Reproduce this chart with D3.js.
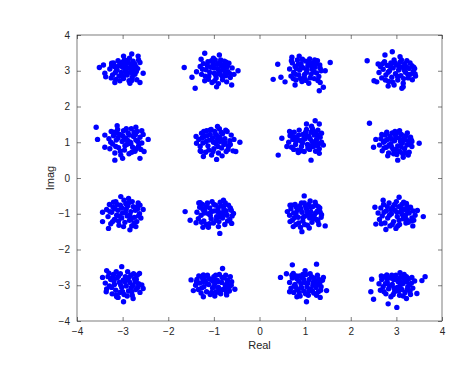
<!DOCTYPE html>
<html>
<head>
<meta charset="utf-8">
<script src="https://cdn.jsdelivr.net/npm/d3@7"></script>
<style>
  body { margin: 0; background: #fff; }
  text { font-family: 'Liberation Sans', Arial, sans-serif; fill: #262626; }
</style>
</head>
<body>
<svg id="chart" width="474" height="366"></svg>
<script>
// ideal 16-QAM symbols (real, imag)
const symbols = [
  [-3, 3], [-1, 3], [1, 3], [3, 3],
  [-3, 1], [-1, 1], [1, 1], [3, 1],
  [-3, -1], [-1, -1], [1, -1], [3, -1],
  [-3, -3], [-1, -3], [1, -3], [3, -3],
];

// received noise around each symbol
const noiseM3P3 = [[-0.51,0.09],[-0.42,0.16],[-0.39,-0.07],[-0.37,-0.17],[-0.24,0.21],[0.02,0.41],[0.2,0.47],[0.34,0.41],[0.38,0.23],[0.45,-0.07],[-0.17,-0.33],[0.16,-0.35],[0.38,-0.33],
  [-0.28,0.05],[-0.22,-0.12],[-0.18,0.12],[-0.15,-0.24],[-0.12,0.02],[-0.1,0.28],[-0.08,-0.15],[-0.05,0.18],[-0.03,-0.05],[0,0.1],[0.02,-0.22],[0.04,0.31],[0.06,-0.02],[0.08,0.2],[0.1,-0.12],[0.12,0.08],[0.14,-0.28],[0.15,0.35],[0.17,-0.04],[0.19,0.16],[0.21,-0.18],[0.23,0.27],[0.25,0.02],[0.27,-0.1],[0.29,0.12],[0.31,-0.25],[0.33,0.06],[0.35,0.3],[-0.25,-0.2],[-0.2,0.22],[-0.14,0.08],[-0.06,-0.28],[-0.01,0.24],[0.05,0.14],[0.09,-0.06],[0.13,0.22],[0.18,0.04],[0.22,-0.08],[0.26,0.2],[0.3,-0.02],[-0.16,-0.05],[-0.09,0.14],[0,-0.14],[0.07,0.04],[0.11,0.28],[0.2,-0.27],[0.24,0.1],[-0.24,0.14]];
const noiseM1P3 = [[-0.65,0.09],[-0.41,-0.49],[-0.2,0.49],[-0.28,0.32],[-0.01,0.35],[0.12,0.44],[0.53,0],[0.39,-0.4],[0.28,-0.31],[0.06,-0.45],[-0.48,-0.18],[-0.38,-0.03],
  [-0.3,0.12],[-0.27,-0.1],[-0.23,0.2],[-0.2,-0.28],[-0.17,0.03],[-0.13,0.25],[-0.11,-0.16],[-0.07,0.1],[-0.04,-0.33],[-0.02,0.19],[0.01,-0.07],[0.03,0.3],[0.05,-0.2],[0.08,0.06],[0.1,-0.36],[0.12,0.22],[0.14,-0.1],[0.16,0.13],[0.19,-0.25],[0.21,0.02],[0.23,0.27],[0.26,-0.14],[0.28,0.1],[0.31,-0.03],[0.33,0.21],[0.36,-0.19],[0.4,0.08],[0.44,-0.1],[-0.25,0.04],[-0.19,-0.15],[-0.14,0.14],[-0.09,-0.05],[-0.05,0.28],[0,0.08],[0.04,-0.12],[0.07,0.18],[0.11,-0.02],[0.15,0.3],[0.18,-0.15],[0.22,0.17],[0.25,-0.05],[0.3,0.14],[0.35,-0.08],[-0.12,-0.24],[0.02,-0.28],[0.13,0],[0.2,0.09],[0.27,0.24]];
const noiseP1P3 = [[-0.6,0.18],[-0.7,-0.24],[-0.53,-0.18],[-0.44,-0.31],[-0.29,0.38],[-0.13,0.41],[0.55,0.23],[0.44,0],[0.33,-0.33],[0.4,-0.46],[0.31,-0.56],[-0.22,-0.4],
  [-0.34,0.05],[-0.31,-0.15],[-0.28,0.22],[-0.25,-0.05],[-0.22,0.12],[-0.2,-0.26],[-0.17,0.3],[-0.14,-0.12],[-0.12,0.02],[-0.09,0.2],[-0.07,-0.3],[-0.04,0.08],[-0.02,-0.18],[0.01,0.27],[0.03,-0.04],[0.06,0.14],[0.08,-0.35],[0.1,0.33],[0.13,-0.1],[0.15,0.04],[0.17,0.22],[0.2,-0.22],[0.22,0.1],[0.25,-0.06],[0.27,0.28],[0.3,-0.16],[0.32,0.16],[0.35,0],[-0.3,0.28],[-0.26,-0.22],[-0.19,0.06],[-0.15,0.18],[-0.1,-0.22],[-0.06,0.32],[-0.01,-0.1],[0.04,0.02],[0.07,0.24],[0.11,-0.2],[0.16,0.12],[0.19,-0.03],[0.24,0.2],[0.28,-0.27],[0.33,0.07],[-0.21,-0.1],[-0.08,0.11],[0.02,-0.27],[0.12,0.18],[0.21,0.3]];
const noiseP3P3 = [[-0.64,0.28],[-0.25,0.44],[-0.09,0.53],[-0.4,0.19],[-0.49,-0.28],[-0.43,-0.31],[0.08,0.39],[0.41,-0.09],[0.22,0.11],[-0.18,-0.43],[0.15,-0.45],[0.12,-0.49],
  [-0.38,-0.05],[-0.35,0.12],[-0.32,-0.2],[-0.29,0.04],[-0.26,0.25],[-0.23,-0.12],[-0.2,0.15],[-0.17,-0.3],[-0.15,0],[-0.12,0.22],[-0.1,-0.18],[-0.07,0.08],[-0.05,0.3],[-0.02,-0.08],[0,0.16],[0.03,-0.26],[0.05,0.02],[0.08,0.24],[0.1,-0.14],[0.13,0.1],[0.15,-0.35],[0.18,0.2],[0.2,-0.04],[0.23,0.28],[0.26,-0.2],[0.28,0.06],[0.31,-0.1],[0.34,0.14],[0.37,-0.02],[0.4,0.06],[0.42,-0.15],[-0.3,0.2],[-0.24,-0.26],[-0.18,-0.04],[-0.13,0.12],[-0.08,-0.32],[-0.03,0.22],[0.02,-0.15],[0.06,0.12],[0.11,0.3],[0.16,-0.22],[0.21,0.1],[0.25,-0.1],[0.3,0.22],[0.35,-0.25],[-0.05,-0.4],[0.17,0.02],[0.38,0.1]];
const noiseM3P1 = [[-0.58,0.42],[-0.55,0.08],[-0.39,0.2],[-0.39,-0.14],[-0.12,0.46],[0.29,0.42],[0.42,0.32],[0.56,0.08],[0.47,-0.26],[0.38,-0.45],[-0.17,-0.5],[0,-0.45],
  [-0.3,0.1],[-0.28,-0.18],[-0.25,0.3],[-0.22,-0.05],[-0.2,0.18],[-0.17,-0.3],[-0.14,0.06],[-0.11,0.36],[-0.09,-0.15],[-0.06,0.22],[-0.04,-0.36],[-0.01,0.02],[0.02,0.32],[0.04,-0.22],[0.07,0.12],[0.09,-0.06],[0.12,0.26],[0.14,-0.32],[0.17,0],[0.19,0.38],[0.22,-0.14],[0.24,0.16],[0.27,-0.25],[0.29,0.06],[0.32,0.3],[0.35,-0.1],[0.38,0.14],[0.42,-0.02],[0.45,0.22],[-0.26,0],[-0.19,0.28],[-0.15,-0.12],[-0.1,0.12],[-0.05,-0.25],[0,0.18],[0.05,-0.1],[0.08,0.38],[0.11,0.05],[0.15,0.2],[0.2,-0.28],[0.25,0.28],[0.3,-0.18],[0.33,0.02],[0.4,-0.2],[-0.12,0.25],[0.03,0.08],[0.18,-0.04],[0.28,0.22]];
const noiseM1P1 = [[-0.39,0.16],[-0.38,-0.03],[-0.3,-0.24],[-0.23,-0.4],[0.08,0.44],[-0.09,0.34],[0.44,0.08],[0.57,0],[0.42,-0.24],[0.48,-0.26],[0.06,-0.48],
  [-0.33,0.08],[-0.3,-0.12],[-0.27,0.25],[-0.24,-0.02],[-0.21,0.16],[-0.18,-0.28],[-0.16,0.32],[-0.13,-0.1],[-0.1,0.06],[-0.08,0.22],[-0.05,-0.36],[-0.03,0.12],[0,-0.18],[0.02,0.3],[0.05,-0.04],[0.07,0.18],[0.1,-0.3],[0.12,0.38],[0.14,0.02],[0.17,-0.16],[0.19,0.24],[0.22,-0.06],[0.24,0.1],[0.27,-0.26],[0.29,0.3],[0.32,-0.12],[0.35,0.04],[0.38,0.2],[-0.28,-0.26],[-0.22,0.3],[-0.17,0.02],[-0.11,-0.22],[-0.06,0.36],[-0.01,0],[0.04,0.22],[0.09,-0.12],[0.13,0.14],[0.18,-0.38],[0.21,0.06],[0.26,0.34],[0.31,-0.2],[0.36,-0.06],[-0.15,0.18],[-0.02,-0.26],[0.08,0.08],[0.16,0.28],[0.25,-0.02],[-0.26,0.12]];
const noiseP1P1 = [[-0.59,-0.36],[-0.51,0.11],[-0.34,0.3],[0.03,0.51],[0.22,0.6],[0.31,0.51],[0.14,0.45],[0.36,0.25],[0.4,-0.08],[0.31,-0.31],[0.13,-0.5],[-0.15,-0.29],[-0.4,-0.12],
  [-0.36,0],[-0.33,0.18],[-0.3,-0.14],[-0.27,0.08],[-0.24,0.28],[-0.21,-0.06],[-0.19,0.14],[-0.16,-0.22],[-0.13,0.34],[-0.1,0.04],[-0.08,-0.12],[-0.05,0.22],[-0.02,-0.26],[0,0.1],[0.03,0.36],[0.05,-0.06],[0.08,0.16],[0.1,-0.2],[0.13,0.28],[0.15,0.02],[0.18,-0.12],[0.2,0.2],[0.23,-0.25],[0.25,0.08],[0.28,0.34],[0.3,-0.04],[0.33,0.14],[0.36,0],[-0.3,0.26],[-0.25,-0.2],[-0.2,0.02],[-0.14,0.2],[-0.09,-0.24],[-0.04,0.08],[0.01,0.28],[0.06,-0.16],[0.11,0.1],[0.16,0.38],[0.21,-0.02],[0.26,0.22],[0.31,-0.18],[-0.17,0.08],[-0.06,-0.02],[0.04,0.18],[0.12,-0.1],[0.19,0.3],[0.27,-0.1],[-0.26,0.14]];
const noiseP3P1 = [[-0.59,0.53],[-0.5,-0.14],[-0.45,0.08],[-0.19,-0.38],[0.03,-0.5],[0.15,-0.42],[0.26,-0.36],[0.5,-0.03],[0.34,0.02],[0.07,0.32],[-0.21,0.25],
  [-0.37,-0.08],[-0.34,0.1],[-0.31,-0.24],[-0.28,0],[-0.25,0.2],[-0.22,-0.14],[-0.2,0.08],[-0.17,-0.3],[-0.14,0.16],[-0.12,-0.04],[-0.09,0.26],[-0.07,-0.2],[-0.04,0.04],[-0.02,0.2],[0.01,-0.34],[0.03,-0.1],[0.06,0.12],[0.08,-0.26],[0.11,0.22],[0.13,-0.02],[0.16,0.1],[0.18,-0.18],[0.21,0.18],[0.23,-0.08],[0.26,0.04],[0.28,-0.28],[0.31,0.14],[0.34,-0.12],[-0.32,0.22],[-0.27,-0.16],[-0.21,0.28],[-0.16,-0.08],[-0.11,0.1],[-0.06,-0.32],[-0.01,0.14],[0.04,0.28],[0.09,0.02],[0.14,-0.32],[0.19,0.06],[0.24,0.26],[0.29,-0.06],[0.33,0.06],[-0.24,0.04],[-0.1,-0.14],[0,-0.2],[0.1,-0.12],[0.2,-0.3],[-0.03,0.3]];
const noiseM3M1 = [[-0.44,0.04],[-0.44,-0.22],[-0.31,-0.41],[-0.04,0.48],[0.13,0.43],[0.38,0.24],[0.45,0.12],[0.29,-0.36],[0.16,-0.45],[-0.17,-0.17],
  [-0.35,0.12],[-0.32,-0.08],[-0.29,0.26],[-0.26,-0.28],[-0.24,0.04],[-0.21,0.18],[-0.18,-0.16],[-0.15,0.34],[-0.13,-0.04],[-0.1,0.1],[-0.08,-0.32],[-0.05,0.24],[-0.02,-0.12],[0,0.02],[0.03,0.38],[0.05,-0.24],[0.08,0.14],[0.1,-0.06],[0.13,0.3],[0.15,-0.18],[0.18,0.06],[0.2,-0.34],[0.23,0.2],[0.26,-0.1],[0.28,0.1],[0.31,-0.22],[0.34,0.3],[0.37,0],[0.4,-0.12],[-0.28,0.06],[-0.22,-0.22],[-0.17,0.14],[-0.12,0.26],[-0.07,-0.06],[-0.02,0.16],[0.02,-0.36],[0.06,0.04],[0.11,0.22],[0.16,-0.04],[0.21,0.34],[0.25,-0.26],[0.3,0.18],[0.35,-0.06],[-0.2,0.32],[-0.09,-0.2],[0.07,0.28],[0.19,-0.14],[0.33,0.14]];
const noiseM1M1 = [[-0.63,0.06],[-0.52,-0.18],[-0.39,-0.25],[-0.3,0.31],[-0.24,-0.38],[0.13,-0.55],[0.21,0.38],[0.43,0.01],[0.39,-0.27],[0.1,-0.36],[-0.12,-0.38],
  [-0.37,0.04],[-0.34,-0.14],[-0.31,0.18],[-0.28,-0.04],[-0.25,0.26],[-0.22,-0.2],[-0.2,0.1],[-0.17,-0.3],[-0.14,0.3],[-0.12,0],[-0.09,0.16],[-0.06,-0.14],[-0.04,0.34],[-0.01,-0.26],[0.01,0.08],[0.04,0.24],[0.06,-0.08],[0.09,0.14],[0.11,-0.22],[0.14,0.32],[0.16,0.02],[0.19,-0.12],[0.21,0.2],[0.24,-0.3],[0.27,0.08],[0.29,-0.04],[0.32,0.24],[0.35,-0.16],[0.38,0.1],[0.4,-0.06],[-0.33,0.3],[-0.27,-0.24],[-0.21,0.02],[-0.16,0.2],[-0.1,-0.28],[-0.05,0.06],[0,0.26],[0.05,-0.18],[0.1,0.04],[0.15,0.22],[0.2,-0.02],[0.25,0.3],[0.3,-0.2],[0.36,0.16],[-0.24,0.12],[-0.08,-0.04],[0.12,-0.08],[0.22,0.12]];
const noiseP1M1 = [[-0.02,0.5],[-0.33,0.24],[-0.39,0.06],[-0.33,-0.22],[-0.26,-0.36],[-0.07,-0.5],[0.44,-0.34],[0.36,-0.03],[0.29,0.2],[0.11,0.36],
  [-0.34,-0.04],[-0.31,0.14],[-0.28,-0.18],[-0.25,0.02],[-0.22,0.26],[-0.2,-0.3],[-0.17,0.1],[-0.15,-0.1],[-0.12,0.22],[-0.1,-0.38],[-0.07,0.04],[-0.05,-0.2],[-0.02,0.3],[0,-0.06],[0.03,0.14],[0.05,-0.32],[0.08,0.26],[0.1,-0.12],[0.12,0.06],[0.15,-0.24],[0.17,0.2],[0.2,-0.04],[0.22,0.32],[0.25,-0.16],[0.27,0.08],[0.3,-0.3],[0.32,0.16],[0.35,-0.1],[-0.29,0.24],[-0.24,-0.12],[-0.19,0.18],[-0.14,-0.26],[-0.09,0.14],[-0.04,-0.1],[0.01,0.22],[0.06,-0.02],[0.09,-0.4],[0.13,0.18],[0.18,-0.14],[0.23,0.02],[0.28,-0.2],[0.33,0.04],[-0.2,0],[-0.08,0.3],[0.04,0.06],[0.14,-0.06],[0.24,0.24],[-0.01,-0.3]];
const noiseP3M1 = [[-0.47,0.18],[-0.45,-0.29],[-0.29,0.38],[0.06,0.46],[0.22,0.29],[0.46,0.09],[0.59,-0.08],[0.36,-0.34],[-0.01,-0.41],[-0.23,-0.44],[0.22,-0.16],
  [-0.4,0.02],[-0.37,-0.16],[-0.34,0.16],[-0.31,-0.06],[-0.28,0.26],[-0.25,-0.26],[-0.22,0.08],[-0.19,-0.12],[-0.16,0.3],[-0.14,-0.34],[-0.11,0],[-0.08,0.18],[-0.06,-0.22],[-0.03,0.1],[0,0.34],[0.02,-0.08],[0.05,0.2],[0.07,-0.3],[0.1,0.04],[0.12,0.26],[0.15,-0.14],[0.18,0.12],[0.2,-0.04],[0.23,0.22],[0.26,-0.24],[0.28,0.02],[0.31,0.18],[0.34,-0.12],[0.37,0.08],[0.41,-0.04],[-0.33,-0.28],[-0.27,0.04],[-0.2,0.2],[-0.15,-0.04],[-0.09,-0.3],[-0.04,0.26],[0.01,0.04],[0.06,-0.18],[0.11,0.14],[0.16,0.32],[0.21,-0.26],[0.27,0.14],[0.32,-0.2],[-0.12,0.12],[0.03,-0.34],[0.13,-0.02],[0.24,0.08],[0.38,-0.18]];
const noiseM3M3 = [[-0.35,0.41],[-0.02,0.52],[-0.14,0.38],[0.37,0.33],[-0.44,0.22],[0.45,-0.09],[0.42,0.01],[-0.36,-0.18],[0.23,-0.37],[0.02,-0.46],[-0.13,-0.32],
  [-0.38,0.06],[-0.35,-0.1],[-0.32,0.24],[-0.29,-0.02],[-0.26,0.16],[-0.23,-0.24],[-0.2,0.3],[-0.18,0.02],[-0.15,-0.14],[-0.12,0.2],[-0.1,-0.34],[-0.07,0.08],[-0.05,0.32],[-0.02,-0.06],[0.01,0.14],[0.03,-0.26],[0.06,0.24],[0.08,-0.02],[0.11,0.38],[0.13,-0.16],[0.16,0.08],[0.18,0.28],[0.21,-0.28],[0.23,0],[0.26,0.18],[0.29,-0.12],[0.32,0.28],[0.35,0.04],[0.38,-0.2],[-0.3,0.34],[-0.24,-0.06],[-0.19,0.12],[-0.14,-0.28],[-0.09,0.26],[-0.04,0],[0,-0.18],[0.05,0.1],[0.1,-0.3],[0.14,0.22],[0.19,-0.06],[0.24,0.32],[0.28,0.1],[0.33,-0.06],[-0.22,0.22],[-0.06,-0.2],[0.09,0.16],[0.2,-0.18],[0.3,0.16]];
const noiseM1M3 = [[-0.5,0.15],[-0.38,0.1],[-0.45,-0.15],[-0.23,0.29],[0.19,0.47],[0.39,0.1],[0.46,-0.11],[0.28,-0.27],[0.02,-0.3],[-0.23,-0.32],
  [-0.4,0],[-0.37,0.16],[-0.34,-0.12],[-0.31,0.06],[-0.28,-0.22],[-0.25,0.2],[-0.22,-0.04],[-0.19,0.12],[-0.16,-0.18],[-0.14,0.28],[-0.11,0.02],[-0.08,-0.26],[-0.06,0.16],[-0.03,-0.08],[0,0.24],[0.02,0.04],[0.05,-0.18],[0.07,0.14],[0.1,-0.06],[0.12,0.3],[0.15,-0.24],[0.17,0.08],[0.2,-0.12],[0.22,0.2],[0.25,0],[0.28,-0.2],[0.3,0.14],[0.33,-0.06],[0.36,0.24],[-0.33,0.26],[-0.27,-0.08],[-0.2,0.24],[-0.15,0.04],[-0.1,0.18],[-0.05,-0.2],[0,-0.04],[0.04,0.28],[0.09,0.1],[0.14,-0.14],[0.18,0.22],[0.24,-0.1],[0.29,0.06],[0.34,-0.16],[-0.24,0.1],[-0.02,0.12],[0.11,-0.2],[0.26,0.28],[0.38,0]];
const noiseP1M3 = [[-0.28,0.57],[0.25,0.59],[-0.54,0.22],[-0.41,0.32],[-0.26,0.33],[0,0.41],[0.4,0.22],[0.47,-0.15],[0.33,-0.34],[0.03,-0.46],[-0.18,-0.32],[-0.34,-0.18],
  [-0.34,0.08],[-0.31,-0.08],[-0.28,0.2],[-0.25,-0.2],[-0.22,0.02],[-0.19,0.26],[-0.17,-0.12],[-0.14,0.12],[-0.11,-0.3],[-0.09,0.04],[-0.06,0.22],[-0.03,-0.16],[-0.01,0.08],[0.02,0.3],[0.04,-0.04],[0.07,-0.28],[0.09,0.16],[0.12,-0.1],[0.14,0.24],[0.17,0],[0.19,-0.22],[0.22,0.12],[0.24,-0.06],[0.27,0.28],[0.29,-0.18],[0.32,0.06],[0.35,-0.04],[0.38,0.14],[-0.29,0.28],[-0.24,-0.02],[-0.18,0.18],[-0.13,-0.2],[-0.08,-0.06],[-0.03,0.16],[0.01,-0.24],[0.06,0.06],[0.11,0.32],[0.16,-0.16],[0.2,0.2],[0.25,-0.28],[0.3,0.16],[0.34,-0.14],[-0.2,-0.06],[-0.05,0.3],[0.08,-0.16],[0.18,0.08],[0.27,0.02],[-0.12,0.26]];
const noiseP3M3 = [[-0.54,0.17],[-0.56,-0.18],[-0.5,-0.39],[-0.21,0.29],[0.08,0.35],[0.22,0.24],[0.63,0.24],[0.56,0.13],[0.45,-0.23],[0.22,-0.37],[0.01,-0.62],[-0.18,-0.52],
  [-0.38,0.04],[-0.35,-0.14],[-0.32,0.16],[-0.29,-0.04],[-0.26,0.24],[-0.23,-0.24],[-0.2,0.08],[-0.17,-0.1],[-0.14,0.2],[-0.12,-0.32],[-0.09,0.02],[-0.06,0.16],[-0.04,-0.18],[-0.01,0.28],[0.02,-0.06],[0.04,0.1],[0.07,-0.28],[0.09,0.22],[0.12,-0.12],[0.14,0.04],[0.17,0.3],[0.19,-0.2],[0.22,0.1],[0.25,-0.04],[0.27,0.18],[0.3,-0.16],[0.33,0.06],[0.36,-0.08],[0.4,0.12],[-0.33,0.26],[-0.27,-0.18],[-0.21,0.18],[-0.15,-0.02],[-0.1,0.28],[-0.05,-0.08],[0,0.16],[0.05,-0.16],[0.1,0.08],[0.15,-0.3],[0.2,0.24],[0.24,-0.12],[0.29,0.02],[0.34,0.22],[-0.24,0.04],[-0.07,-0.26],[0.08,-0.02],[0.18,0.16],[0.31,-0.26]];

const noiseSets = [
  noiseM3P3, noiseM1P3, noiseP1P3, noiseP3P3,
  noiseM3P1, noiseM1P1, noiseP1P1, noiseP3P1,
  noiseM3M1, noiseM1M1, noiseP1M1, noiseP3M1,
  noiseM3M3, noiseM1M3, noiseP1M3, noiseP3M3,
];

const xTicks = [-4, -3, -2, -1, 0, 1, 2, 3, 4];
const yTicks = [-4, -3, -2, -1, 0, 1, 2, 3, 4];

// received samples = symbol + noise
const received = symbols.flatMap((s, i) =>
  noiseSets[i].map((n) => [s[0] + n[0], s[1] + n[1]])
);

const margin = { left: 77, right: 32, top: 35, bottom: 45 };
const svg = d3.select('#chart');
const width = 474 - margin.left - margin.right;
const height = 366 - margin.top - margin.bottom;

const x = d3.scaleLinear().domain([-4, 4]).range([0, width]);
const y = d3.scaleLinear().domain([-4, 4]).range([height, 0]);

const g = svg.append('g').attr('transform', `translate(${margin.left},${margin.top})`);

// points first, axes drawn on top
g.append('g')
  .selectAll('circle')
  .data(received)
  .join('circle')
  .attr('cx', (d) => x(d[0]))
  .attr('cy', (d) => y(d[1]))
  .attr('r', 2.7)
  .style('fill', '#0000ff');

const axisColor = '#262626';
const tick = 4;

function styleAxis(sel) {
  sel.select('.domain').remove();
  sel.selectAll('.tick line').attr('stroke', axisColor).attr('stroke-width', 0.6);
  sel.selectAll('.tick text')
    .style('font-size', '10px')
    .style('fill', axisColor);
}

g.append('g')
  .attr('transform', `translate(0,${height})`)
  .call(d3.axisBottom(x).tickValues(xTicks).tickSize(-tick).tickPadding(7).tickFormat(d3.format('d')))
  .call(styleAxis);

g.append('g')
  .call(d3.axisTop(x).tickValues(xTicks).tickSize(-tick).tickFormat(''))
  .call(styleAxis);

g.append('g')
  .call(d3.axisLeft(y).tickValues(yTicks).tickSize(-tick).tickPadding(7).tickFormat(d3.format('d')))
  .call(styleAxis);

g.append('g')
  .attr('transform', `translate(${width},0)`)
  .call(d3.axisRight(y).tickValues(yTicks).tickSize(-tick).tickFormat(''))
  .call(styleAxis);

// box
g.append('rect')
  .attr('width', width)
  .attr('height', height)
  .attr('fill', 'none')
  .attr('stroke', axisColor)
  .attr('stroke-width', 0.6);

g.append('text')
  .attr('x', width / 2)
  .attr('y', height + 28)
  .style('text-anchor', 'middle')
  .style('font-size', '11px')
  .text('Real');

g.append('text')
  .attr('transform', `translate(${-23},${height / 2}) rotate(-90)`)
  .style('text-anchor', 'middle')
  .style('font-size', '11px')
  .text('Imag');
</script>
</body>
</html>
